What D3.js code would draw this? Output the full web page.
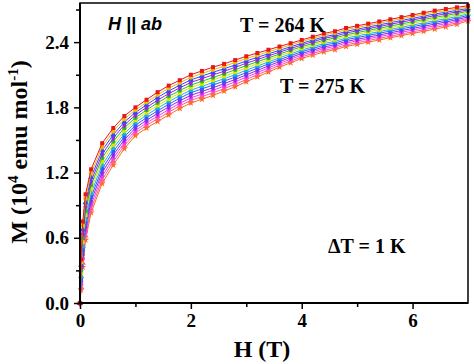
<!DOCTYPE html>
<html>
<head>
<meta charset="utf-8">
<script src="https://cdn.jsdelivr.net/npm/d3@7"></script>
<style>
  body { margin: 0; background: #fff; }
  svg { display: block; }
  .tick text { font-family: "Liberation Serif", "Times New Roman", serif; font-weight: bold; font-size: 19px; fill: #000; }
</style>
</head>
<body>
<svg width="474" height="364"></svg>
<script>
// field values (T), shared by all curves
const fields = [0, 0.02, 0.05, 0.1, 0.2, 0.4, 0.6, 0.8, 1.0, 1.2, 1.4, 1.6, 1.8, 2.0, 2.2, 2.4, 2.6, 2.8, 3.0,
  3.2, 3.4, 3.6, 3.8, 4.0, 4.2, 4.4, 4.6, 4.8, 5.0, 5.2, 5.4, 5.6, 5.8, 6.0, 6.2, 6.4, 6.6, 6.8, 7.0];

const temps = [264, 265, 266, 267, 268, 269, 270, 271, 272, 273, 274, 275];

// magnetisation, 10^4 emu/mol
const m264 = [0, 0.400, 0.750, 1.000, 1.230, 1.470, 1.610, 1.720, 1.800, 1.870, 1.940, 2.000, 2.050, 2.100, 2.135, 2.170, 2.200, 2.235, 2.270, 2.300, 2.330, 2.360, 2.390, 2.420, 2.450, 2.480, 2.500, 2.530, 2.550, 2.570, 2.590, 2.610, 2.630, 2.650, 2.670, 2.690, 2.705, 2.720, 2.735];
const m265 = [0, 0.375, 0.712, 0.962, 1.194, 1.436, 1.579, 1.693, 1.776, 1.846, 1.915, 1.975, 2.026, 2.076, 2.111, 2.146, 2.177, 2.213, 2.249, 2.280, 2.311, 2.343, 2.374, 2.405, 2.435, 2.465, 2.485, 2.515, 2.535, 2.555, 2.575, 2.595, 2.615, 2.635, 2.655, 2.675, 2.690, 2.706, 2.722];
const m266 = [0, 0.349, 0.674, 0.924, 1.157, 1.403, 1.548, 1.665, 1.753, 1.823, 1.891, 1.951, 2.003, 2.053, 2.088, 2.123, 2.155, 2.190, 2.227, 2.260, 2.293, 2.325, 2.357, 2.389, 2.419, 2.449, 2.469, 2.499, 2.519, 2.539, 2.559, 2.579, 2.599, 2.619, 2.639, 2.659, 2.675, 2.692, 2.710];
const m267 = [0, 0.324, 0.635, 0.885, 1.121, 1.369, 1.517, 1.638, 1.729, 1.799, 1.866, 1.926, 1.979, 2.029, 2.064, 2.099, 2.132, 2.168, 2.206, 2.240, 2.274, 2.308, 2.341, 2.374, 2.404, 2.434, 2.454, 2.484, 2.504, 2.524, 2.544, 2.564, 2.584, 2.604, 2.624, 2.644, 2.660, 2.678, 2.697];
const m268 = [0, 0.298, 0.597, 0.847, 1.085, 1.335, 1.486, 1.611, 1.705, 1.775, 1.842, 1.902, 1.955, 2.005, 2.040, 2.075, 2.109, 2.146, 2.185, 2.220, 2.255, 2.291, 2.325, 2.358, 2.388, 2.418, 2.438, 2.468, 2.488, 2.508, 2.528, 2.548, 2.568, 2.588, 2.608, 2.628, 2.645, 2.664, 2.684];
const m269 = [0, 0.273, 0.559, 0.809, 1.048, 1.302, 1.455, 1.584, 1.682, 1.752, 1.817, 1.877, 1.932, 1.982, 2.017, 2.052, 2.086, 2.124, 2.163, 2.200, 2.237, 2.274, 2.308, 2.343, 2.373, 2.403, 2.423, 2.453, 2.473, 2.493, 2.513, 2.533, 2.553, 2.573, 2.593, 2.613, 2.630, 2.650, 2.671];
const m270 = [0, 0.247, 0.521, 0.771, 1.012, 1.268, 1.425, 1.556, 1.658, 1.728, 1.793, 1.853, 1.908, 1.958, 1.993, 2.028, 2.064, 2.101, 2.142, 2.180, 2.218, 2.256, 2.292, 2.327, 2.357, 2.387, 2.407, 2.437, 2.457, 2.477, 2.497, 2.517, 2.537, 2.557, 2.577, 2.597, 2.615, 2.635, 2.659];
const m271 = [0, 0.222, 0.483, 0.733, 0.975, 1.235, 1.394, 1.529, 1.635, 1.705, 1.768, 1.828, 1.885, 1.935, 1.970, 2.005, 2.041, 2.079, 2.120, 2.160, 2.200, 2.239, 2.275, 2.312, 2.342, 2.372, 2.392, 2.422, 2.442, 2.462, 2.482, 2.502, 2.522, 2.542, 2.562, 2.582, 2.600, 2.621, 2.646];
const m272 = [0, 0.196, 0.445, 0.695, 0.939, 1.201, 1.363, 1.502, 1.611, 1.681, 1.744, 1.804, 1.861, 1.911, 1.946, 1.981, 2.018, 2.057, 2.099, 2.140, 2.181, 2.222, 2.259, 2.296, 2.326, 2.356, 2.376, 2.406, 2.426, 2.446, 2.466, 2.486, 2.506, 2.526, 2.546, 2.566, 2.585, 2.607, 2.633];
const m273 = [0, 0.171, 0.406, 0.656, 0.903, 1.167, 1.332, 1.475, 1.587, 1.657, 1.719, 1.779, 1.837, 1.887, 1.922, 1.957, 1.995, 2.035, 2.078, 2.120, 2.162, 2.205, 2.243, 2.281, 2.311, 2.341, 2.361, 2.391, 2.411, 2.431, 2.451, 2.471, 2.491, 2.511, 2.531, 2.551, 2.570, 2.593, 2.620];
const m274 = [0, 0.145, 0.368, 0.618, 0.866, 1.134, 1.301, 1.447, 1.564, 1.634, 1.695, 1.755, 1.814, 1.864, 1.899, 1.934, 1.973, 2.012, 2.056, 2.100, 2.144, 2.187, 2.226, 2.265, 2.295, 2.325, 2.345, 2.375, 2.395, 2.415, 2.435, 2.455, 2.475, 2.495, 2.515, 2.535, 2.555, 2.579, 2.608];
const m275 = [0, 0.120, 0.330, 0.580, 0.830, 1.100, 1.270, 1.420, 1.540, 1.610, 1.670, 1.730, 1.790, 1.840, 1.875, 1.910, 1.950, 1.990, 2.035, 2.080, 2.125, 2.170, 2.210, 2.250, 2.280, 2.310, 2.330, 2.360, 2.380, 2.400, 2.420, 2.440, 2.460, 2.480, 2.500, 2.520, 2.540, 2.565, 2.595];

const curves = [m264, m265, m266, m267, m268, m269, m270, m271, m272, m273, m274, m275];
const colors = ['#e8161b', '#f2b705', '#2b4cff', '#a51fd8', '#22c02a', '#e6e000',
  '#17b4e0', '#3a55ff', '#8a2be2', '#f03cf0', '#ff5d8a', '#ff6a1a'];
const symbols = [d3.symbolSquare, d3.symbolCircle, d3.symbolTriangle, d3.symbolDiamond, d3.symbolCircle, d3.symbolSquare,
  d3.symbolTriangle, d3.symbolSquare, d3.symbolDiamond, d3.symbolCircle, d3.symbolTriangle, d3.symbolStar];

const xTicks = [0, 2, 4, 6];
const yTicks = [0.0, 0.6, 1.2, 1.8, 2.4];

const svg = d3.select('svg');
const mLeft = 80, mRight = 468, mTop = 3, mBottom = 303;

const x = d3.scaleLinear().domain([0, 7]).range([mLeft, mRight]);
const y = d3.scaleLinear().domain([0, 2.76]).range([mBottom, mTop]);

const series = curves.map((vals, i) => ({
  T: temps[i],
  color: colors[i],
  symbol: symbols[i],
  points: vals.map((m, j) => ({h: fields[j], m}))
}));

const line = d3.line()
  .x(d => x(d.h))
  .y(d => y(d.m));

const plot = svg.append('g');

// draw high T first so the 264 K curve ends on top
const g = plot.selectAll('.curve')
  .data(series.slice().reverse())
  .enter()
  .append('g')
  .attr('class', 'curve');

g.append('path')
  .attr('d', d => line(d.points))
  .attr('fill', 'none')
  .attr('stroke', d => d.color)
  .attr('stroke-width', 1);

g.selectAll('path.pt')
  .data(d => d.points.map(p => ({...p, color: d.color, symbol: d.symbol})))
  .enter()
  .append('path')
  .attr('class', 'pt')
  .attr('transform', d => `translate(${x(d.h)}, ${y(d.m)})`)
  .attr('d', d => d3.symbol().type(d.symbol).size(16)())
  .attr('fill', d => d.color);

// axes
svg.append('g')
  .attr('transform', `translate(0, ${mBottom})`)
  .call(d3.axisBottom(x).tickValues(xTicks).tickSize(6).tickPadding(5).tickFormat(d3.format('d')));
svg.append('g')
  .attr('transform', `translate(0, ${mBottom})`)
  .call(d3.axisBottom(x).tickValues([1, 3, 5]).tickSize(4).tickFormat(''));

svg.append('g')
  .attr('transform', `translate(${mLeft}, 0)`)
  .call(d3.axisLeft(y).tickValues(yTicks).tickSize(6).tickPadding(5).tickFormat(d3.format('.1f')));
svg.append('g')
  .attr('transform', `translate(${mLeft}, 0)`)
  .call(d3.axisLeft(y).tickValues([0.3, 0.9, 1.5, 2.1, 2.7]).tickSize(4).tickFormat(''));

svg.selectAll('.domain').remove();
svg.selectAll('.tick line').attr('stroke', '#000').attr('stroke-width', 1.5);

// frame
svg.append('rect')
  .attr('x', mLeft).attr('y', mTop)
  .attr('width', mRight - mLeft).attr('height', mBottom - mTop)
  .attr('fill', 'none').attr('stroke', '#000').attr('stroke-width', 1.5);
svg.append('line').attr('x1', mLeft).attr('x2', mLeft).attr('y1', mTop).attr('y2', mBottom + 1)
  .attr('stroke', '#000').attr('stroke-width', 2);
svg.append('line').attr('x1', mLeft - 1).attr('x2', mRight).attr('y1', mBottom).attr('y2', mBottom)
  .attr('stroke', '#000').attr('stroke-width', 2);

// axis titles
const serif = '"Liberation Serif", "Times New Roman", serif';
svg.append('text')
  .attr('x', 262).attr('y', 357)
  .attr('text-anchor', 'middle')
  .attr('font-family', serif).attr('font-weight', 'bold').attr('font-size', 24)
  .text('H (T)');

const yl = svg.append('text')
  .attr('transform', 'translate(27, 152) rotate(-90)')
  .attr('text-anchor', 'middle')
  .attr('font-family', serif).attr('font-weight', 'bold').attr('font-size', 24);
yl.append('tspan').text('M (10');
yl.append('tspan').attr('dy', -9).attr('font-size', 15).text('4');
yl.append('tspan').attr('dy', 9).text(' emu mol');
yl.append('tspan').attr('dy', -9).attr('font-size', 15).text('-1');
yl.append('tspan').attr('dy', 9).text(')');

// annotations
svg.append('text')
  .attr('x', 108).attr('y', 30)
  .attr('font-family', '"Liberation Sans", Arial, sans-serif')
  .attr('font-weight', 'bold').attr('font-style', 'italic').attr('font-size', 18)
  .text('H || ab');

const notes = [
  {t: 'T = 264 K', x: 240, y: 32},
  {t: 'T = 275 K', x: 280, y: 93},
  {t: '\u0394T = 1 K', x: 328, y: 253}
];
svg.selectAll('.note')
  .data(notes)
  .enter()
  .append('text')
  .attr('class', 'note')
  .attr('x', d => d.x).attr('y', d => d.y)
  .attr('font-family', serif).attr('font-weight', 'bold').attr('font-size', 20)
  .text(d => d.t);
</script>
</body>
</html>
